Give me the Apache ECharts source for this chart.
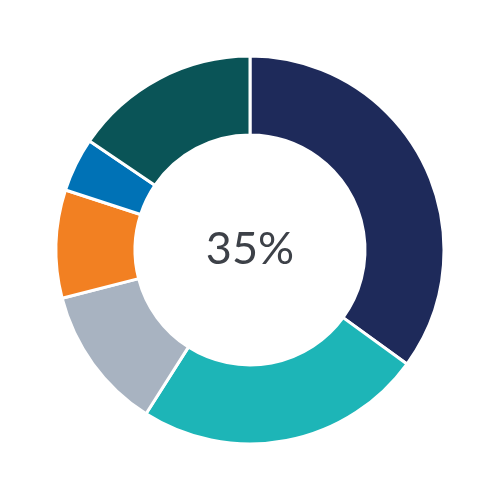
<!DOCTYPE html>
<html>
<head>
<meta charset="UTF-8">
<title></title>
<style>
  html, body { margin: 0; padding: 0; background: #fff; }
  #chart { width: 500px; height: 500px; }
</style>
</head>
<body>
<div id="chart"></div>
<script src="https://cdn.jsdelivr.net/npm/echarts@6/dist/echarts.min.js"></script>
<script>
var names = ['A', 'B', 'C', 'D', 'E', 'F'];
var values = [35, 24, 12, 9, 4.5, 15.5];
var colors = ['#1e2a5a', '#1db5b7', '#a8b3c1', '#f28022', '#0072b6', '#0a5457'];
var centerLabel = '35%';

var chart = echarts.init(document.getElementById('chart'));

var data = [];
for (var i = 0; i < values.length; i++) {
  data.push({ name: names[i], value: values[i], itemStyle: { color: colors[i] } });
}

chart.setOption({
  animation: false,
  graphic: [{
    type: 'text',
    left: 'center',
    top: 227,
    style: {
      text: centerLabel,
      font: '400 45px Lato',
      fill: '#3d4148'
    }
  }],
  series: [{
    type: 'pie',
    center: ['50%', '50%'],
    radius: [115, 194],
    startAngle: 90,
    clockwise: true,
    label: { show: false },
    labelLine: { show: false },
    itemStyle: { borderColor: '#fff', borderWidth: 3 },
    data: data
  }]
});
</script>
</body>
</html>
